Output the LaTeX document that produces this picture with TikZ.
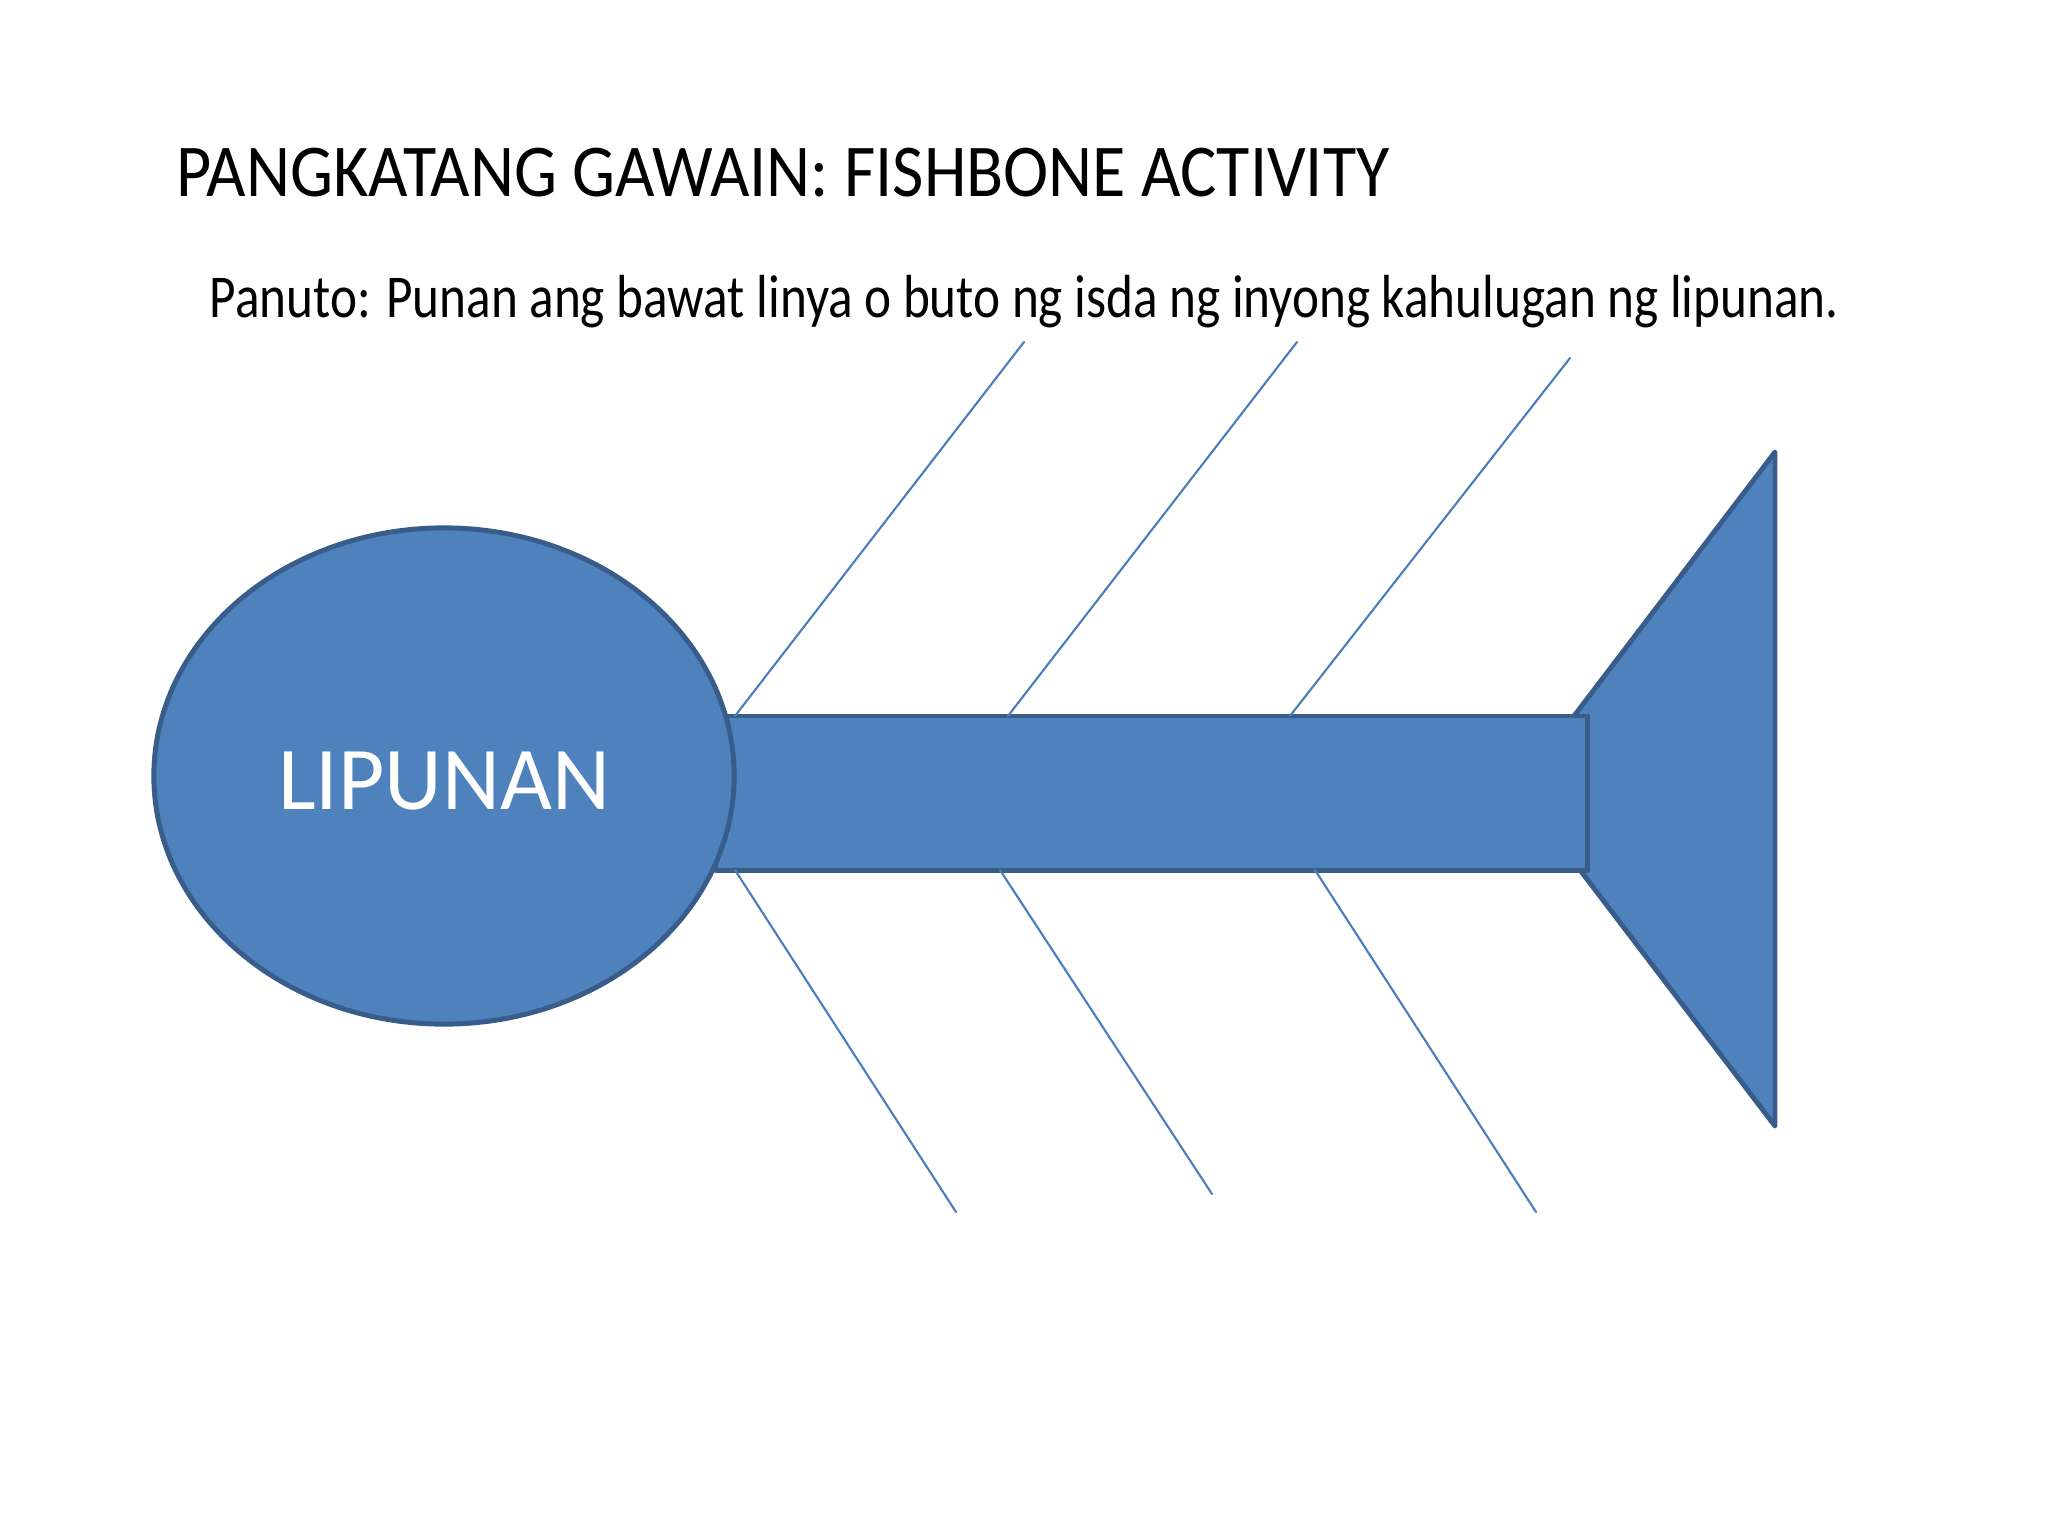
\documentclass[tikz,border=0pt]{standalone}
\usepackage{graphicx}
\usepackage{fontspec}
\setmainfont{Carlito}
\usetikzlibrary{shapes.geometric}
\definecolor{fishfill}{RGB}{79,129,189}
\definecolor{fishline}{RGB}{56,93,138}
\definecolor{boneline}{RGB}{74,126,187}

\begin{document}
\begin{tikzpicture}[line cap=round,line join=round,x=0.01cm,y=-0.01cm,
  fishpart/.style={fill=fishfill,draw=fishline,line width=1.4pt},
  bone/.style={draw=boneline,line width=0.6pt}]
\useasboundingbox (0,0) rectangle (2048,1536);
\node[anchor=base west,inner sep=0pt,font=\fontsize{21.2}{25}\selectfont] (title) at (176,196) {\scalebox{0.914}[1]{PANGKATANG GAWAIN: FISHBONE ACTIVITY}};
\node[anchor=base west,inner sep=0pt,font=\fontsize{17.3}{21}\selectfont] (panuto) at (209,317) {\scalebox{0.842}[1]{Panuto: Punan ang bawat linya o buto ng isda ng inyong kahulugan ng lipunan.}};
% buntot
\draw[fishpart] (1574,716)--(1775,452)--(1775,1126)--(1580,870)--cycle;
% gulugod
\node[fishpart,rectangle,minimum width=8.71cm,minimum height=1.54cm,inner sep=0pt,outer sep=0pt] (spine) at (1151.5,793) {};
\foreach \sx/\ex/\ey [count=\i] in {735/1024/342,1008/1297/342,1290/1570/358}
{
  \coordinate (up\i) at (\ex,\ey);
  \draw[bone] (\sx,0 |- spine.north) -- (up\i);
}
\foreach \sx/\ex/\ey [count=\i] in {735/956/1212,1000/1212/1194,1315/1536/1212}
{
  \coordinate (down\i) at (\ex,\ey);
  \draw[bone] (\sx,0 |- spine.south) -- (down\i);
}
% ulo
\node[fishpart,ellipse,minimum width=5.8cm,minimum height=4.96cm,inner sep=0pt,outer sep=0pt,text=white,font=\fontsize{25.5}{30}\selectfont] (head) at (444,776) {};
\node[text=white,font=\fontsize{25.5}{30}\selectfont,inner sep=0pt] (headlabel) at (444,781) {LIPUNAN};
\end{tikzpicture}
\end{document}
